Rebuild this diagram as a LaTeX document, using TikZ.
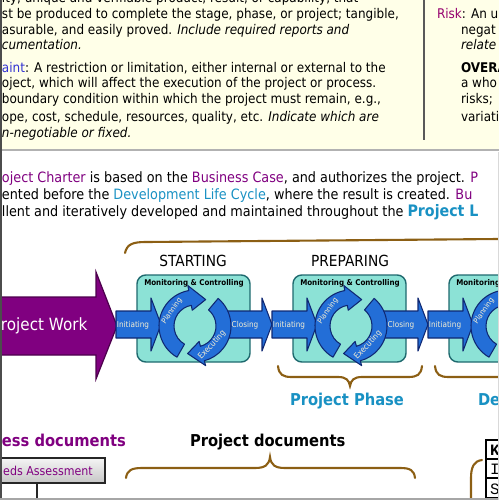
\documentclass[tikz,border=0pt]{standalone}
\usepackage{fontspec}
\setmainfont{DejaVu Sans}[FakeStretch=0.9]
\newfontfamily\tablefont{Liberation Mono}
\definecolor{panelbg}{RGB}{255,255,232}
\definecolor{docpurple}{RGB}{128,0,128}
\definecolor{riskpurple}{RGB}{150,0,110}
\definecolor{linkblue}{RGB}{50,50,210}
\definecolor{cycleteal}{RGB}{25,145,195}
\definecolor{bracebrown}{RGB}{140,95,20}
\definecolor{boxfill}{RGB}{140,226,214}
\definecolor{boxline}{RGB}{30,105,110}
\definecolor{stepblue}{RGB}{35,110,215}
\definecolor{stepline}{RGB}{15,40,115}
\definecolor{steptxt}{RGB}{245,238,210}

\begin{document}
\begin{tikzpicture}[x=0.02cm, y=-0.02cm]
	\tikzstyle{every node} = [inner sep=0pt, outer sep=0pt]
	\tikzstyle{bodytext} = [anchor=base west, font=\fontsize{7.6}{8}\selectfont]
	\tikzstyle{leadtext} = [anchor=base west, font=\fontsize{8.1}{9}\selectfont]
	\tikzstyle{phasetitle} = [anchor=base, font=\fontsize{8.7}{10}\selectfont]
	\tikzstyle{brace} = [draw=bracebrown, line width=1.2pt, line cap=round]
	\tikzstyle{phasebox} = [draw=boxline, fill=boxfill, line width=0.8pt, rounded corners=5pt]
	\tikzstyle{steparrow} = [draw=stepline, fill=stepblue, line width=0.6pt, line join=round]
	\tikzstyle{steptext} = [text=steptxt, font=\fontsize{4.6}{5}\selectfont]
	\tikzstyle{mctext} = [font=\fontsize{4.5}{5}\selectfont\bfseries]
	\tikzstyle{sectiontitle} = [anchor=base west, font=\fontsize{9.3}{11}\selectfont\bfseries]
	\useasboundingbox (0,0) rectangle (499,500);
	\clip (0,0) rectangle (499,500);

	% definitions panel
	\fill[panelbg] (0,0) rectangle (499,149);
	\draw[gray!60, line width=1.6pt] (0,150) -- (499,150);
	\draw[gray!70!black, line width=0.9pt] (424,0) -- (424,140);
	\node[bodytext] (def0) at (2,3) {ity, unique and verifiable product, result, or capability, that};
	\node[bodytext] (def1) at (2,18.5) {st be produced to complete the stage, phase, or project; tangible,};
	\node[bodytext] (def2) at (2,35) {asurable, and easily proved. \textit{Include required reports and}};
	\node[bodytext] (def3) at (2,50) {\textit{cumentation.}};
	\node[bodytext] (con1) at (2,72) {\textcolor{linkblue}{aint}: A restriction or limitation, either internal or external to the};
	\node[bodytext] (con2) at (2,88) {oject, which will affect the execution of the project or process.};
	\node[bodytext] (con3) at (2,104) {boundary condition within which the project must remain, e.g.,};
	\node[bodytext] (con4) at (2,121) {ope, cost, schedule, resources, quality, etc. \textit{Indicate which are}};
	\node[bodytext] (con5) at (2,137) {\textit{n-negotiable or fixed.}};
	\node[bodytext] (risk1) at (437,18.5) {\textcolor{riskpurple}{Risk}: An u};
	\node[bodytext] (risk2) at (461,35) {negat};
	\node[bodytext] (risk3) at (461,50) {\textit{relate}};
	\node[bodytext] (risk4) at (461,72) {\textbf{OVERA}};
	\node[bodytext] (risk5) at (461,88) {a who};
	\node[bodytext] (risk6) at (461,104) {risks; };
	\node[bodytext] (risk7) at (461,121) {variati};

	% lead text
	\node[leadtext] (lead1) at (2,182) {\textcolor{docpurple}{oject Charter} is based on the \textcolor{docpurple}{Business Case}, and authorizes the project. \textcolor{docpurple}{P}};
	\node[leadtext] (lead2) at (2,199) {ented before the \textcolor{cycleteal}{Development Life Cycle}, where the result is created. \textcolor{docpurple}{Bu}};
	\node[leadtext] (lead3) at (2,216) {llent and iteratively developed and maintained throughout the \textcolor{cycleteal}{\fontsize{9}{10}\selectfont\bfseries Project L}};

	% life cycle brace
	\draw[brace] (125,253) .. controls (127,244) and (133,242) .. (146,242) -- (499,239);
	\node[phasetitle] (starting) at (193,266) {STARTING};
	\node[phasetitle] (preparing) at (350,266) {PREPARING};

	% project work
	\draw[fill=docpurple, draw=docpurple!60!black, line width=0.7pt] (-5,297) -- (96,297) -- (96,272) -- (117,326) -- (96,379) -- (96,355) -- (-5,355) -- cycle;
	\node[anchor=west, text=white, font=\fontsize{9.6}{11}\selectfont] (work) at (1,326) {roject Work};

	% phases
	\foreach \i in {0,1,2} {
		\pgfmathsetmacro{\bx}{137+156*\i}
		\draw[phasebox] (\bx,275) rectangle ({\bx+113},362);
		\draw[steparrow] ({\bx-21},311) -- ({\bx+14},311) -- ({\bx+14},298) -- ({\bx+24},324.5) -- ({\bx+14},351) -- ({\bx+14},338) -- ({\bx-21},338) -- cycle;
		\draw[steparrow] ({\bx+85},311) -- ({\bx+125},311) -- ({\bx+125},298) -- ({\bx+135},324.5) -- ({\bx+125},351) -- ({\bx+125},338) -- ({\bx+85},338) -- cycle;
		\begin{scope}[shift={({\bx+58},326)}]
			\draw[steparrow] (-240:36) arc[start angle=-240, end angle=-100, radius=36] -- (-100:41) -- (-68:28.5) -- (-100:16) -- (-100:21) arc[start angle=-100, end angle=-240, radius=21] -- cycle;
			\draw[steparrow] (-50:36) arc[start angle=-50, end angle=75, radius=36] -- (75:41) -- (105:28.5) -- (75:16) -- (75:21) arc[start angle=75, end angle=-50, radius=21] -- cycle;
		\end{scope}
		\node[steptext] (init\i) at ({\bx-4},325) {Initiating};
		\node[steptext] (close\i) at ({\bx+108},325) {Closing};
		\node[steptext, rotate=55, font=\fontsize{4.3}{5}\selectfont] (plan\i) at ({\bx+35},311) {Planning};
		\node[steptext, rotate=47] (exec\i) at ({\bx+75},345) {Executing};
		\node[mctext] (mc\i) at ({\bx+57},283.5) {Monitoring \& Controlling};
	}

	% phase braces
	\draw[brace] (278,366) .. controls (279,375) and (283,377) .. (292,377) -- (338,377) .. controls (346,377) and (349,380) .. (350,386) .. controls (351,380) and (354,377) .. (362,377) -- (408,377) .. controls (417,377) and (421,375) .. (422,366);
	\draw[brace] (435,366) .. controls (436,375) and (440,377) .. (449,377) -- (499,377);
	\node[anchor=base, text=cycleteal, font=\fontsize{9.3}{11}\selectfont\bfseries] (phase) at (347,405) {Project Phase};
	\node[anchor=base west, text=cycleteal, font=\fontsize{9.3}{11}\selectfont\bfseries] (devel) at (478,405) {De};

	% documents
	\node[sectiontitle, text=docpurple] (busdocs) at (2,446) {ess documents};
	\node[sectiontitle] (projdocs) at (190,446) {Project documents};
	\node[draw=gray!30!black, line width=0.8pt, top color=gray!8, bottom color=gray!45, minimum width=2.28cm, minimum height=0.5cm, text=docpurple, font=\fontsize{7}{8}\selectfont] (needs) at (48,470.5) {eds Assessment};
	\coordinate (stubend) at (37,500);
	\draw[gray!30!black, line width=1.4pt] (needs.south -| stubend) -- (stubend);
	\draw[brace] (126,478) .. controls (127,470) and (132,468) .. (142,468) -- (255,468) .. controls (265,468) and (269,465) .. (270,457) .. controls (271,465) and (275,468) .. (285,468) -- (400,468) .. controls (410,468) and (414,470) .. (415,478);
	\draw[brace] (482,460) .. controls (474,461) and (471,467) .. (471,478) -- (471,500);

	% key table
	\draw[black, line width=0.8pt] (486,440) rectangle (520,459);
	\draw[black, line width=0.8pt] (486,459) rectangle (520,478);
	\draw[black, line width=0.8pt] (486,478) rectangle (520,498);
	\node[anchor=base west, font=\fontsize{9}{10}\tablefont\bfseries] (keyK) at (490,455) {K};
	\node[anchor=base west, font=\fontsize{9}{10}\tablefont] (keyI) at (490,474) {I};
	\node[anchor=base west, font=\fontsize{9}{10}\tablefont] (keyS) at (490,494) {S};

	% frame
	\draw[gray!60!black, line width=1pt] (0.8,0) -- (0.8,500);
	\draw[gray!70, line width=1.2pt] (0,499) -- (499,499);
	\draw[gray!30, line width=1pt] (498.5,152) -- (498.5,500);
\end{tikzpicture}
\end{document}
